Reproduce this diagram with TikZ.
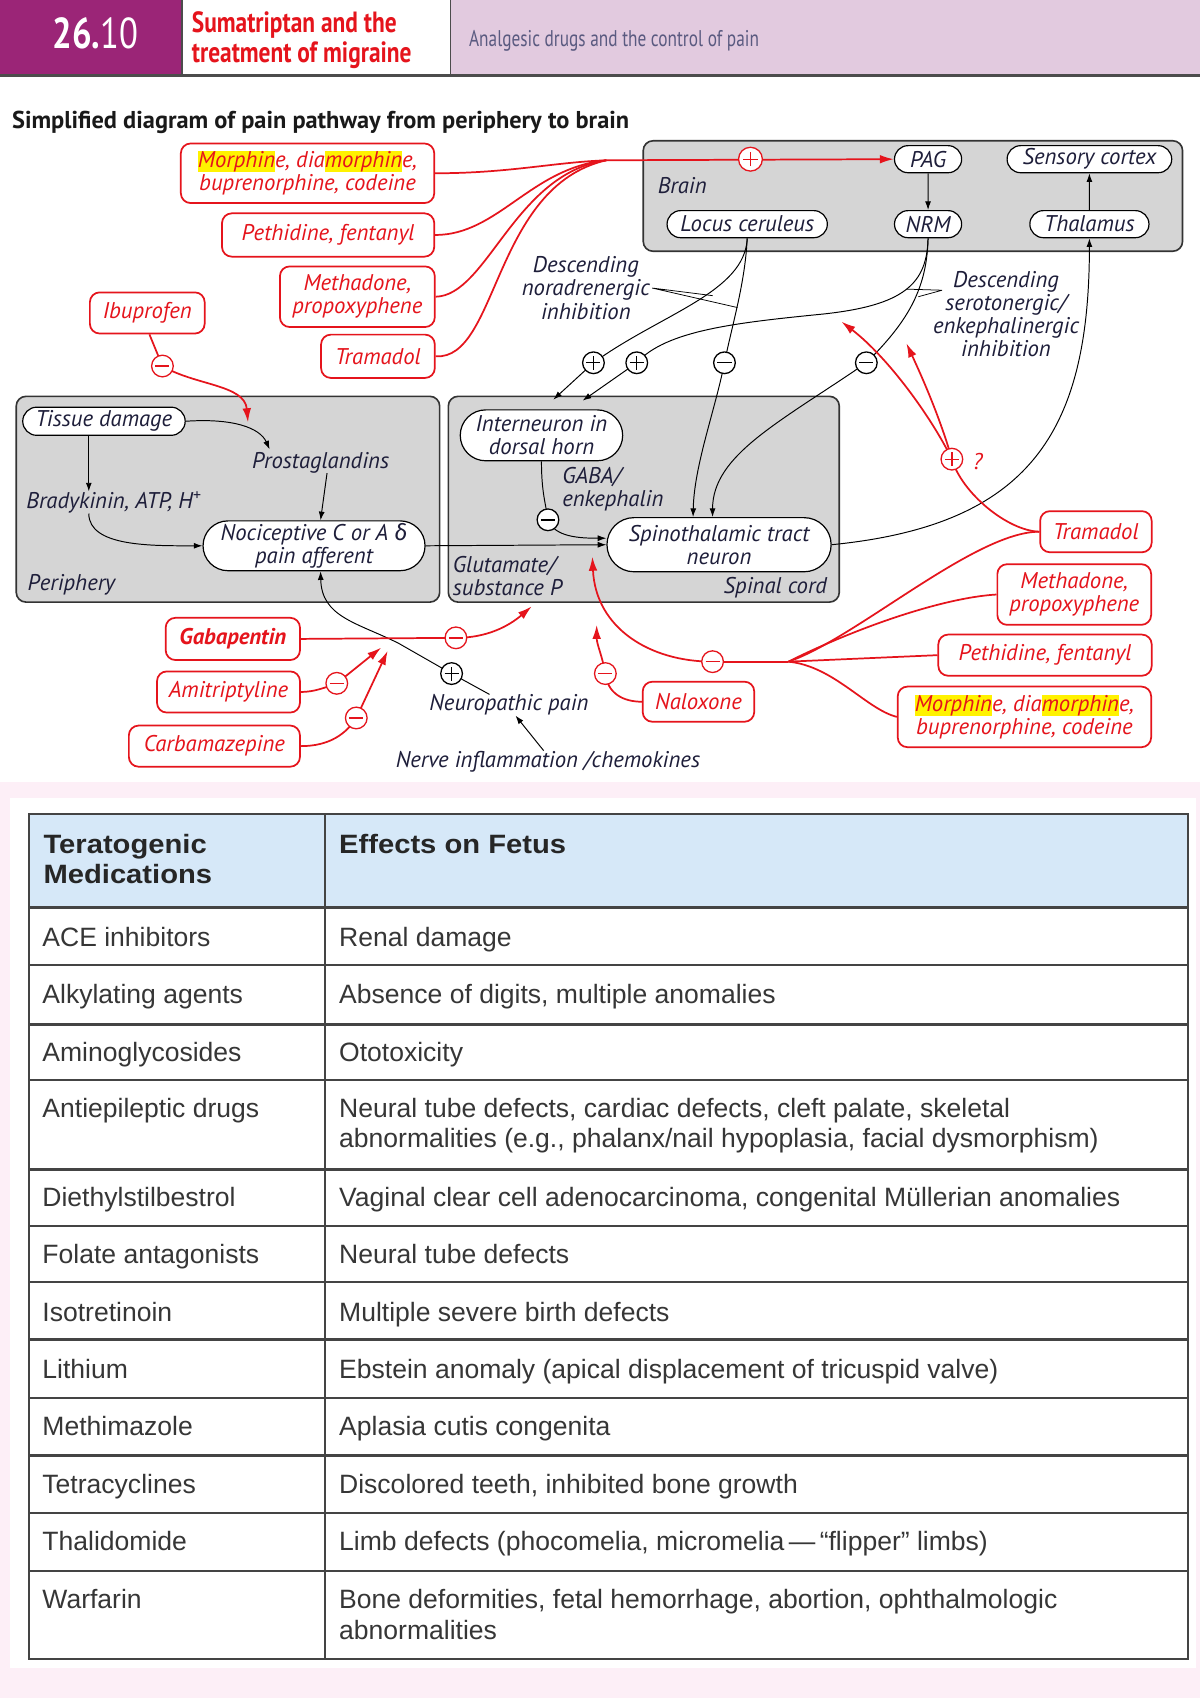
\documentclass[tikz,border=0pt]{standalone}
\usepackage{fontspec}
\setmainfont{PT Sans}
\newfontfamily\dfont{PT Sans}
\newfontfamily\gfont{Fira Sans}
\newfontfamily\hfont[FakeStretch=0.8]{PT Sans}
\newfontfamily\afont[FakeStretch=0.76]{PT Sans}
\newfontfamily\tfont{Liberation Sans}
\newfontfamily\tbfont[FakeStretch=1.1]{Liberation Sans}
\usetikzlibrary{shapes.misc,arrows.meta,calc}
\definecolor{hpurple}{HTML}{9B2577}
\definecolor{hpink}{HTML}{E2CADF}
\definecolor{hgrey}{HTML}{5A5A80}
\definecolor{dred}{HTML}{E5141C}
\definecolor{boxgray}{HTML}{D5D5D5}
\definecolor{lbl}{HTML}{1E1E3A}
\definecolor{tblue}{HTML}{D6E8F8}
\definecolor{tpink}{HTML}{FDEFF7}
\definecolor{ttext}{HTML}{363636}
\definecolor{tline}{HTML}{444444}
\newcommand{\hlm}[1]{{\setlength{\fboxsep}{0pt}\colorbox{yellow}{\vphantom{Mp}#1}}}
\tikzset{
  dtext/.style={font=\dfont\itshape\fontsize{21}{21.5}\selectfont},
  lab/.style={dtext, text=lbl, inner sep=0pt, align=center},
  pill/.style={rounded rectangle, draw=black, line width=1.1pt, fill=white, dtext, text=lbl, inner sep=0pt, align=center},
  drug/.style={rectangle, rounded corners=9pt, draw=dred, line width=1.6pt, fill=white, dtext, text=dred, align=center, inner sep=0pt},
  region/.style={rounded corners=9pt, draw=black!80, line width=1.5pt, fill=boxgray},
  bl/.style={line width=0.9pt, draw=black},
  blarr/.style={bl, -{Latex[length=8pt,width=5.5pt]}},
  rd/.style={line width=1.6pt, draw=dred},
  rdarr/.style={rd, -{Latex[length=13pt,width=8pt]}},
  sgn/.style={circle, minimum size=20pt, inner sep=0pt, fill=white, line width=1.2pt},
  rplus/.style={sgn, draw=dred, path picture={\draw[line width=1.2pt, dred] ([xshift=-6.5pt]path picture bounding box.center) -- ([xshift=6.5pt]path picture bounding box.center) ([yshift=-6.5pt]path picture bounding box.center) -- ([yshift=6.5pt]path picture bounding box.center);}},
  rminus/.style={sgn, draw=dred, path picture={\draw[line width=1.4pt, dred] ([xshift=-6.5pt]path picture bounding box.center) -- ([xshift=6.5pt]path picture bounding box.center);}},
  bplus/.style={sgn, draw=black, path picture={\draw[line width=1.1pt] ([xshift=-6.5pt]path picture bounding box.center) -- ([xshift=6.5pt]path picture bounding box.center) ([yshift=-6.5pt]path picture bounding box.center) -- ([yshift=6.5pt]path picture bounding box.center);}},
  bminus/.style={sgn, draw=black, path picture={\draw[line width=1.3pt] ([xshift=-6.5pt]path picture bounding box.center) -- ([xshift=6.5pt]path picture bounding box.center);}},
  tcell/.style={font=\tfont\fontsize{24.5}{28}\selectfont, text=ttext, anchor=base west, inner sep=0pt},
  thead/.style={font=\tbfont\bfseries\fontsize{24.5}{28}\selectfont, text=black!85, anchor=base west, inner sep=0pt}
}
\begin{document}
\begin{tikzpicture}[x=1pt,y=-1pt]
\useasboundingbox (0,0) rectangle (1108,1568);
\fill[white] (0,0) rectangle (1108,1568);
% ---------- header ----------
\fill[hpurple] (0,0) rectangle (168,70);
\fill[white] (168,0) rectangle (416,70);
\fill[hpink] (416,0) rectangle (1108,70);
\draw[line width=1.2pt, black!70] (168,0) -- (168,70) (416,0) -- (416,70);
\draw[line width=2.5pt, black!70] (0,70) -- (1108,70);
\node[text=white, font=\hfont\fontsize{40}{40}\selectfont, inner sep=0pt] (num) at (88,31) {\textbf{26.}10};
\node[anchor=west, text=dred, font=\hfont\bfseries\fontsize{27}{28}\selectfont, align=left, inner sep=0pt] (ttl) at (177,37) {Sumatriptan and the\\treatment of migraine};
\node[anchor=west, text=hgrey, font=\afont\fontsize{21}{21}\selectfont, inner sep=0pt] (sub) at (433,38) {Analgesic drugs and the control of pain};
\node[anchor=west, text=black!90, font=\dfont\bfseries\fontsize{22.5}{22.5}\selectfont, inner sep=0pt] (title) at (11,113) {Simplified diagram of pain pathway from periphery to brain};
% ---------- regions ----------
\draw[region] (594,130) rectangle (1092,232);
\draw[region] (15,366) rectangle (406,556);
\draw[region] (414,366) rectangle (775,556);
% ---------- black nodes ----------
\node[pill, minimum width=62pt, minimum height=25pt] (pag) at (857,147) {PAG};
\node[pill, minimum width=152pt, minimum height=25pt] (sens) at (1006,147) {Sensory cortex};
\node[pill, minimum width=148pt, minimum height=25pt] (lc) at (690,207) {Locus ceruleus};
\node[pill, minimum width=62pt, minimum height=25pt] (nrm) at (857,207) {NRM};
\node[pill, minimum width=110pt, minimum height=25pt] (thal) at (1006,207) {Thalamus};
\node[pill, minimum width=150pt, minimum height=26pt] (td) at (96,389) {Tissue damage};
\node[pill, minimum width=205pt, minimum height=46pt] (noci) at (290,504) {Nociceptive C or A {\gfont\itshape δ}\\pain afferent};
\node[pill, minimum width=150pt, minimum height=47pt] (inter) at (500,402) {Interneuron in\\dorsal horn};
\node[pill, minimum width=207pt, minimum height=50pt] (spino) at (664,503) {Spinothalamic tract\\neuron};
% labels
\node[lab] (brain) at (630,171) {Brain};
\node[lab] (pg) at (296,427) {Prostaglandins};
\node[lab] (brad) at (105,464) {Bradykinin, ATP, H\textsuperscript{+}};
\node[lab] (periph) at (66,540) {Periphery};
\node[lab, align=left, anchor=west] (gaba) at (519,452) {GABA/\\enkephalin};
\node[lab, align=left, anchor=west] (glu) at (418,532) {Glutamate/\\substance P};
\node[lab] (scord) at (716,543) {Spinal cord};
\node[lab] (nor) at (541,266) {Descending\\noradrenergic\\inhibition};
\node[lab] (sero) at (929,290) {Descending\\serotonergic/\\enkephalinergic\\inhibition};
\node[lab] (neuro) at (470,651) {Neuropathic pain};
\node[lab] (nerve) at (506,703) {Nerve inflammation /chemokines};
\node[lab, text=dred] (qm) at (903,426) {?};
% ---------- drug nodes ----------
\node[drug, minimum width=234pt, minimum height=55pt] (mL) at (284,160) {\hlm{Morphin}e, dia\hlm{morphin}e,\\buprenorphine, codeine};
\node[drug, minimum width=196pt, minimum height=40pt] (pL) at (303,217) {Pethidine, fentanyl};
\node[drug, minimum width=143pt, minimum height=56pt] (meL) at (330,274) {Methadone,\\propoxyphene};
\node[drug, minimum width=105pt, minimum height=40pt] (tL) at (349,329) {Tramadol};
\node[drug, minimum width=106pt, minimum height=38pt] (ibu) at (136,289) {Ibuprofen};
\node[drug, minimum width=103pt, minimum height=38pt] (tR) at (1012,491) {Tramadol};
\node[drug, minimum width=142pt, minimum height=56pt] (meR) at (992,549) {Methadone,\\propoxyphene};
\node[drug, minimum width=197pt, minimum height=38pt] (pR) at (965,605) {Pethidine, fentanyl};
\node[drug, minimum width=234pt, minimum height=56pt] (mR) at (946,662) {\hlm{Morphin}e, dia\hlm{morphin}e,\\buprenorphine, codeine};
\node[drug, minimum width=103pt, minimum height=37pt] (nal) at (645,648) {Naloxone};
\node[drug, minimum width=124pt, minimum height=39pt, font=\dfont\bfseries\itshape\fontsize{21}{21}\selectfont] (gab) at (215,590) {Gabapentin};
\node[drug, minimum width=132pt, minimum height=38pt] (ami) at (211,639) {Amitriptyline};
\node[drug, minimum width=158pt, minimum height=38pt] (carb) at (198,689) {Carbamazepine};
% ---------- coordinates ----------
\coordinate (J1) at (560,148);
\coordinate (J2) at (728,611);
\coordinate (cTop) at (693,147);
\coordinate (cIbu) at (150,338);
\coordinate (cP1) at (548,335);
\coordinate (cP2) at (588,335);
\coordinate (cM1) at (669,335);
\coordinate (cM2) at (800,335);
\coordinate (cG) at (506,480);
\coordinate (cQ) at (879,424);
\coordinate (cFan) at (658,611);
\coordinate (cNal) at (559,622);
\coordinate (cGab) at (421,589);
\coordinate (cAmi) at (311,631);
\coordinate (cCarb) at (329,663);
\coordinate (cN) at (417,622);
\coordinate (c1) at (760,290);
\coordinate (aI1) at (511,369);
\coordinate (aI2) at (538,370);
\coordinate (pgIn) at (249,415);
\coordinate (rIbuEnd) at (229,390);
\coordinate (q1) at (777,297);
\coordinate (q2) at (837,317);
\coordinate (nalEnd) at (551,577);
\coordinate (gabEnd) at (491,560);
\coordinate (amiEnd) at (352,598);
\coordinate (carbEnd) at (358,601);
\coordinate (fanEnd) at (547,514);
\coordinate (seroL) at (870,268);
% ---------- black connectors ----------
\draw[blarr] (pag) -- (nrm);
\draw[blarr] (thal) -- (sens);
\draw[blarr] (td.east) .. controls (215,386) and (240,395) .. (pgIn);
\draw[blarr] ([xshift=-14pt]td.south) -- ([xshift=-23pt]brad.north);
\draw[blarr] ([xshift=6pt]pg.south) -- ([xshift=6pt]noci.north);
\draw[blarr] ([xshift=-23pt]brad.south) .. controls (82,505) and (140,504) .. (noci.west);
\draw[blarr] (noci.east) -- (spino.west);
\draw[bl] (inter.south) .. controls (500,455) and (504,465) .. (cG);
\draw[blarr] (cG) .. controls (512,496) and (535,497) .. ([yshift=6pt]spino.west);
% locus ceruleus
\draw[bl] (lc.south) .. controls (688,270) and (610,290) .. (cP1);
\draw[blarr] (cP1) -- (aI1);
\draw[bl] (lc.south) .. controls (688,262) and (676,300) .. (cM1);
\draw[blarr] (cM1) .. controls (660,380) and (641,430) .. ([xshift=-24pt]spino.north);
% NRM
\draw[bl] (nrm.south) .. controls (856,262) and (835,282) .. (c1);
\draw[bl] (c1) .. controls (680,298) and (615,305) .. (cP2);
\draw[blarr] (cP2) -- (aI2);
\draw[bl] (nrm.south) .. controls (856,270) and (835,300) .. (cM2);
\draw[blarr] (cM2) .. controls (720,390) and (658,420) .. ([xshift=-6pt]spino.north);
% leaders
\draw[line width=0.7pt] ([xshift=2pt]nor.east) -- (658,273) ([xshift=2pt]nor.east) -- (681,284);
\draw[line width=0.7pt] (seroL) -- (837,267) (seroL) -- (848,274);
% spino to thalamus
\draw[blarr] (spino.east) .. controls (950,485) and (1006,400) .. (thal.south);
% neuropathic
\draw[blarr] ([xshift=-18pt]neuro.north) -- (cN) -- (368,594) .. controls (330,575) and (297,570) .. ([xshift=6pt]noci.south);
\draw[blarr] ([xshift=-4pt]nerve.north) -- ([xshift=6pt]neuro.south);
% ---------- red connectors ----------
\draw[rd] (mL.east) .. controls (470,160) and (510,150) .. (J1);
\draw[rd] (pL.east) .. controls (460,217) and (490,155) .. (J1);
\draw[rd] (meL.east) .. controls (450,273) and (475,160) .. (J1);
\draw[rd] (tL.east) .. controls (460,333) and (455,172) .. (J1);
\draw[rdarr] (J1) -- (pag.west);
\draw[rd] ([xshift=2pt]ibu.south) -- (cIbu);
\draw[rdarr] (cIbu) .. controls (180,356) and (226,355) .. (rIbuEnd);
\draw[rd] (tR.west) .. controls (900,491) and (790,590) .. (J2);
\draw[rd] (meR.west) .. controls (870,552) and (790,580) .. (J2);
\draw[rd] (pR.west) -- (J2);
\draw[rd] (mR.west) .. controls (800,655) and (770,615) .. (J2);
\draw[rd] (J2) -- (cFan);
\draw[rdarr] (cFan) .. controls (600,611) and (550,580) .. (fanEnd);
\draw[rd] (tR.west) .. controls (930,490) and (888,455) .. (cQ);
\draw[rdarr] (cQ) .. controls (860,385) and (820,330) .. (q1);
\draw[rdarr] (cQ) .. controls (868,385) and (850,345) .. (q2);
\draw[rd] (nal.west) .. controls (575,648) and (561,640) .. (cNal);
\draw[rdarr] (cNal) .. controls (556,605) and (551,595) .. (nalEnd);
\draw[rd] (gab.east) -- (cGab);
\draw[rdarr] (cGab) .. controls (450,589) and (470,578) .. (gabEnd);
\draw[rd] (ami.east) .. controls (290,639) and (300,635) .. (cAmi);
\draw[rdarr] (cAmi) -- (amiEnd);
\draw[rd] (carb.east) .. controls (305,689) and (320,677) .. (cCarb);
\draw[rdarr] (cCarb) -- (carbEnd);
% ---------- sign circles ----------
\node[rplus, minimum size=22pt] (sTop) at (cTop) {};
\node[rminus] (sIbu) at (cIbu) {};
\node[bplus] (sP1) at (cP1) {};
\node[bplus] (sP2) at (cP2) {};
\node[bminus] (sM1) at (cM1) {};
\node[bminus] (sM2) at (cM2) {};
\node[bminus] (sG) at (cG) {};
\node[rplus] (sQ) at (cQ) {};
\node[rminus] (sFan) at (cFan) {};
\node[rminus] (sNal) at (cNal) {};
\node[rminus] (sGab) at (cGab) {};
\node[rminus] (sAmi) at (cAmi) {};
\node[rminus] (sCarb) at (cCarb) {};
\node[bplus] (sN) at (cN) {};
% ---------- table ----------
\fill[tpink] (0,722) rectangle (1108,1568);
\fill[white] (9,737) rectangle (1104,1540);
\fill[tblue] (27,752) rectangle (1097,838);
\foreach \yy in {838,891,946,997,1080,1132,1184,1237,1291,1344,1397,1451}
  \draw[line width=2pt, tline] (27,\yy) -- (1097,\yy);
\draw[line width=2pt, tline] (27,752) rectangle (1097,1532);
\draw[line width=2pt, tline] (300,752) -- (300,1532);
\node[thead] (h1a) at (40,788) {Teratogenic};
\node[thead] (h1b) at (40,816) {Medications};
\node[thead] (h2) at (313,788) {Effects on Fetus};
\node[tcell] (r1a) at (39,874) {ACE inhibitors};
\node[tcell] (r1b) at (313,874) {Renal damage};
\node[tcell] (r2a) at (39,927) {Alkylating agents};
\node[tcell] (r2b) at (313,927) {Absence of digits, multiple anomalies};
\node[tcell] (r3a) at (39,980) {Aminoglycosides};
\node[tcell] (r3b) at (313,980) {Ototoxicity};
\node[tcell] (r4a) at (39,1032) {Antiepileptic drugs};
\node[tcell] (r4b) at (313,1032) {Neural tube defects, cardiac defects, cleft palate, skeletal};
\node[tcell] (r4c) at (313,1060) {abnormalities (e.g., phalanx/nail hypoplasia, facial dysmorphism)};
\node[tcell] (r5a) at (39,1114) {Diethylstilbestrol};
\node[tcell] (r5b) at (313,1114) {Vaginal clear cell adenocarcinoma, congenital Müllerian anomalies};
\node[tcell] (r6a) at (39,1167) {Folate antagonists};
\node[tcell] (r6b) at (313,1167) {Neural tube defects};
\node[tcell] (r7a) at (39,1220) {Isotretinoin};
\node[tcell] (r7b) at (313,1220) {Multiple severe birth defects};
\node[tcell] (r8a) at (39,1273) {Lithium};
\node[tcell] (r8b) at (313,1273) {Ebstein anomaly (apical displacement of tricuspid valve)};
\node[tcell] (r9a) at (39,1326) {Methimazole};
\node[tcell] (r9b) at (313,1326) {Aplasia cutis congenita};
\node[tcell] (r10a) at (39,1379) {Tetracyclines};
\node[tcell] (r10b) at (313,1379) {Discolored teeth, inhibited bone growth};
\node[tcell] (r11a) at (39,1432) {Thalidomide};
\node[tcell] (r11b) at (313,1432) {Limb defects (phocomelia, micromelia\,—\,“flipper” limbs)};
\node[tcell] (r12a) at (39,1485) {Warfarin};
\node[tcell] (r12b) at (313,1485) {Bone deformities, fetal hemorrhage, abortion, ophthalmologic};
\node[tcell] (r12c) at (313,1514) {abnormalities};
\end{tikzpicture}
\end{document}
